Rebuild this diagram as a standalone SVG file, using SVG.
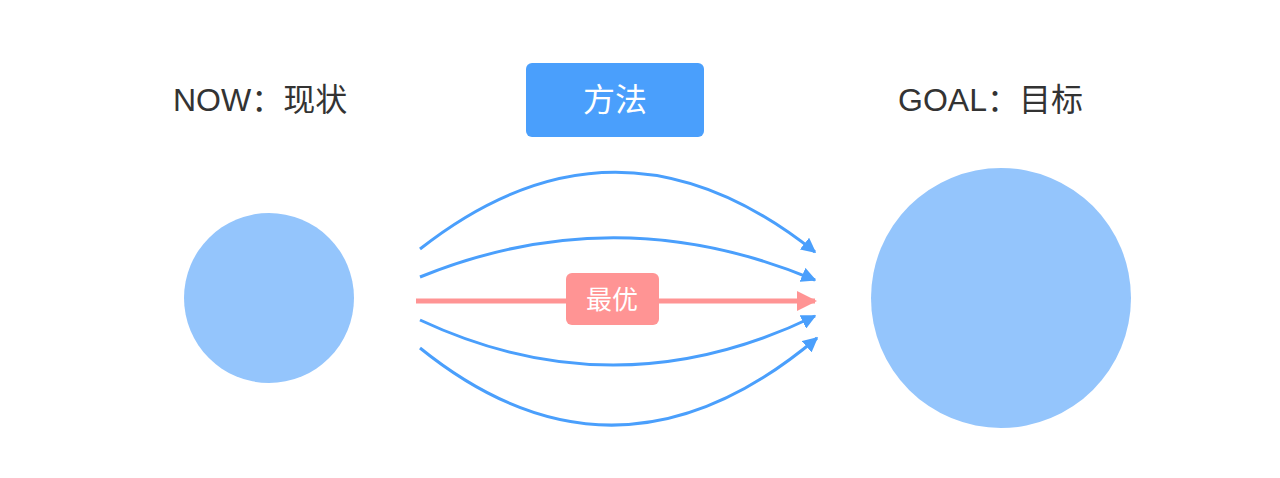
<svg xmlns="http://www.w3.org/2000/svg" width="1280" height="478" viewBox="0 0 1280 478">
<style>
.t{font-family:"Liberation Sans","Noto Sans CJK SC",sans-serif;}
.c{fill:none;stroke:#4a9ffc;stroke-width:3;}
</style>
<defs>
<marker id="ab" viewBox="0 0 10 10" refX="9" refY="5" markerWidth="5" markerHeight="5" orient="auto" markerUnits="strokeWidth"><path d="M0,0L10,5L0,10z" fill="#4a9ffc"/></marker>
<marker id="ar" viewBox="0 0 10 10" refX="9" refY="5" markerWidth="4" markerHeight="4" orient="auto" markerUnits="strokeWidth"><path d="M0,0L10,5L0,10z" fill="#ff9494"/></marker>
</defs>
<rect width="1280" height="478" fill="#fff"/>
<g id="now"><circle cx="269" cy="298" r="85" fill="#94c5fc"/><text class="t" x="173" y="111" font-size="32" fill="#333">NOW：现状</text></g>
<g id="goal"><circle cx="1001" cy="298" r="130" fill="#94c5fc"/><text class="t" x="898" y="111" font-size="32" fill="#333">GOAL：目标</text></g>
<g id="method"><rect x="526" y="63" width="178" height="74" rx="6" fill="#4a9ffc"/><text class="t" x="615" y="111" font-size="32" fill="#fff" text-anchor="middle">方法</text></g>
<g id="connectors">
<path class="c" d="M420,249Q617,94 815,252" marker-end="url(#ab)"/>
<path class="c" d="M420,277Q617,197 815,280" marker-end="url(#ab)"/>
<path class="c" d="M420,320Q617,412 815,316" marker-end="url(#ab)"/>
<path class="c" d="M420,348Q617,507 817,338" marker-end="url(#ab)"/>
<path d="M416,301H815" stroke="#ff9494" stroke-width="5" fill="none" marker-end="url(#ar)"/>
</g>
<g id="best"><rect x="566" y="273" width="93" height="52" rx="6" fill="#ff9494"/><text class="t" x="612" y="309" font-size="26" fill="#fff" text-anchor="middle">最优</text></g>
</svg>
